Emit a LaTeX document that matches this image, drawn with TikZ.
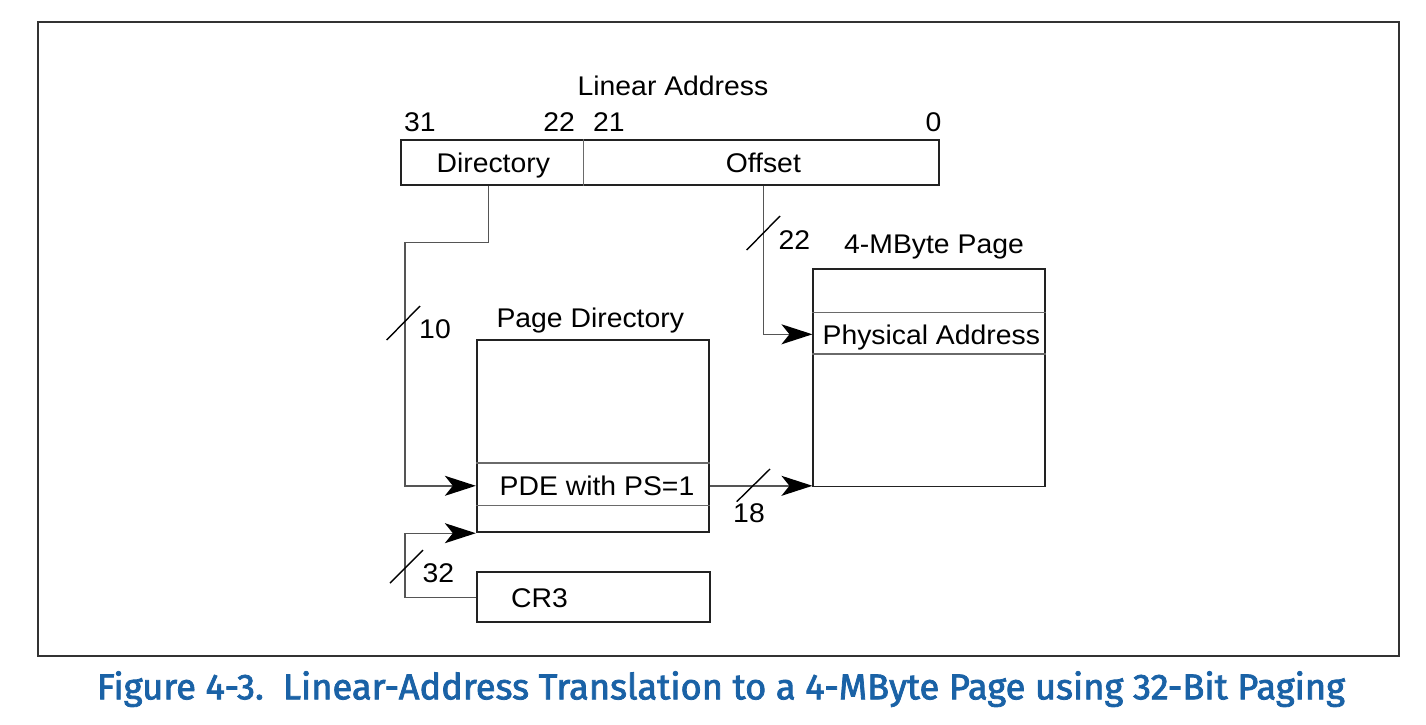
\documentclass[tikz,border=0pt]{standalone}
\usepackage{fontspec}
\setmainfont{Liberation Sans}[FakeStretch=1.05]
\newfontfamily\capfont{Fira Sans}[FakeBold=2.2]
\usetikzlibrary{arrows.meta}
\definecolor{capblue}{HTML}{1A62A6}
\definecolor{boxline}{HTML}{222222}
\definecolor{divline}{HTML}{6A6A6A}
\definecolor{connline}{HTML}{555555}
\begin{document}
\begin{tikzpicture}[x=1pt,y=-1pt,
  txt/.style={inner sep=0pt,font=\fontsize{27}{32}\selectfont,text=black},
  box/.style={draw=boxline,line width=1.8pt,rectangle,inner sep=0pt},
  divider/.style={draw=divline,line width=1.2pt},
  conn/.style={draw=connline,line width=1.4pt},
  arr/.style={conn,-{Stealth[length=31pt,width=20pt,inset=8pt,color=black]}},
  slashmark/.style={draw=black,line width=1.4pt},
  frame/.style={draw=black!80,line width=2.2pt}]
\useasboundingbox (0,0) rectangle (1426,724);
\draw[frame] (38.3,21.7) rectangle (1398.7,656);

% boxes
\node[box,minimum width=538pt,minimum height=45.3pt] (la) at (670.2,162.6) {};
\node[box,minimum width=232.3pt,minimum height=192pt] (pd) at (592.9,436.3) {};
\node[box,minimum width=231.7pt,minimum height=217.2pt] (pg) at (929.2,377.9) {};
\node[box,minimum width=233.3pt,minimum height=50pt] (cr3) at (593.3,597.2) {};

% dividers
\coordinate (ladiv) at (583.3,0);
\draw[divider] (la.north -| ladiv) -- (la.south -| ladiv);
\coordinate (pdA) at (0,463);
\coordinate (pdB) at (0,505.7);
\draw[divider] (pd.west |- pdA) -- (pd.east |- pdA);
\draw[divider] (pd.west |- pdB) -- (pd.east |- pdB);
\coordinate (pgA) at (0,312.3);
\coordinate (pgB) at (0,354);
\draw[divider] (pg.west |- pgA) -- (pg.east |- pgA);
\draw[divider] (pg.west |- pgB) -- (pg.east |- pgB);

% texts
\node[txt,anchor=base] (latitle) at (673,95.5) {Linear Address};
\node[txt,anchor=base west] (b31) at (404,131.7) {31};
\node[txt,anchor=base east] (b22) at (575,131.7) {22};
\node[txt,anchor=base west] (b21) at (593,131.7) {21};
\node[txt,anchor=base east] (b0) at (941.5,131.7) {0};
\node[txt,anchor=base] (dirtxt) at (493.3,172) {Directory};
\node[txt,anchor=base] (offtxt) at (763.3,172) {Offset};
\node[txt,anchor=base] (pdtitle) at (590.3,327) {Page Directory};
\node[txt,anchor=base] (pgtitle) at (934,253.5) {4-MByte Page};
\node[txt,anchor=base] (phys) at (931.3,344.5) {Physical Address};
\node[txt,anchor=base] (pde) at (597,495.5) {PDE with PS=1};
\node[txt,anchor=base] (cr3txt) at (539.5,607) {CR3};
\node[txt,anchor=base] (n10) at (435,338.5) {10};
\node[txt,anchor=base] (n22) at (794.3,249.5) {22};
\node[txt,anchor=base] (n18) at (749,522) {18};
\node[txt,anchor=base] (n32) at (438.3,582) {32};

% connector coordinates
\coordinate (dirTap) at (488.7,0);
\coordinate (dirBend) at (488.7,242.7);
\coordinate (dirLeft) at (405,242.7);
\coordinate (pdeY) at (0,485.8);
\coordinate (offTap) at (763.3,0);
\coordinate (physY) at (0,334.3);
\coordinate (crLeft) at (405,597.2);

\draw[arr] (la.south -| dirTap) -- (dirBend) -- (dirLeft) |- (pd.west |- pdeY);
\draw[arr] (la.south -| offTap) |- (pg.west |- physY);
\draw[arr] (pd.east |- pdeY) -- (pg.west |- pdeY);
\draw[arr] (cr3.west) -- (crLeft) |- (pd.south west);

% bus-width slashes
\draw[slashmark] (386.7,340) -- (420,306);
\draw[slashmark] (746.7,250) -- (780,216);
\draw[slashmark] (736.7,501.7) -- (770,469);
\draw[slashmark] (390,583) -- (423,550);

% caption
\node[inner sep=0pt,anchor=base west,text=capblue] (caption) at (96.7,699.3)
  {\resizebox{1248pt}{\height}{\capfont\fontsize{36}{40}\selectfont Figure 4-3.\ \ Linear-Address Translation to a 4-MByte Page using 32-Bit Paging}};
\end{tikzpicture}
\end{document}
